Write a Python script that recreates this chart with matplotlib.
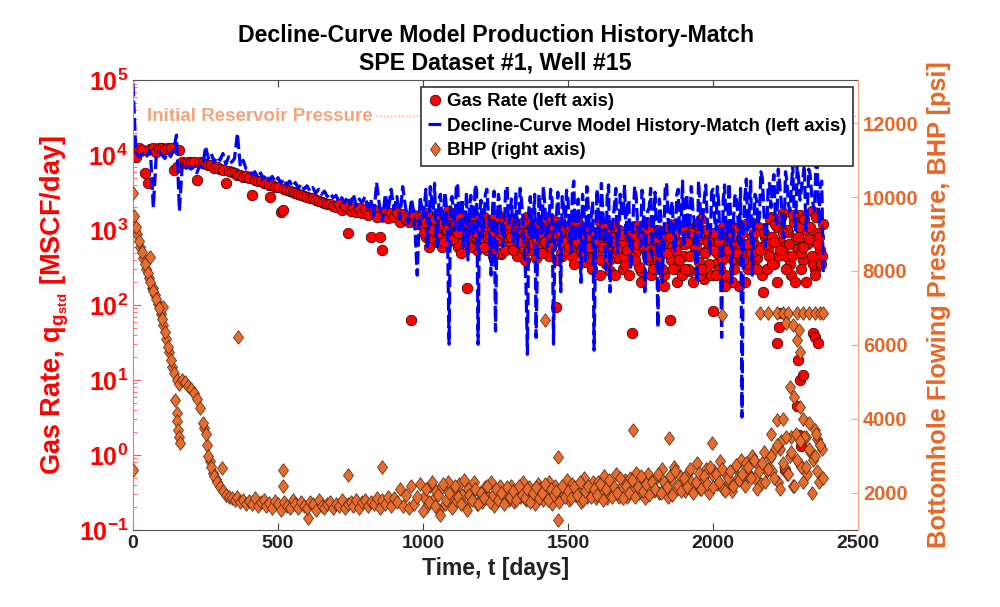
import numpy as np
import matplotlib
matplotlib.use("Agg")
import matplotlib.pyplot as plt
from matplotlib.ticker import NullFormatter

plt.rcParams['font.family'] = ['Liberation Sans', 'DejaVu Sans']
plt.rcParams['font.weight'] = 'bold'
plt.rcParams['mathtext.fontset'] = 'custom'
plt.rcParams['mathtext.rm'] = 'Liberation Sans:bold'
plt.rcParams['mathtext.it'] = 'Liberation Sans:bold'
plt.rcParams['mathtext.bf'] = 'Liberation Sans:bold'
plt.rcParams['mathtext.default'] = 'bf'

# sampled every 10 days, 0 .. 2380
days = np.arange(0, 2390, 10)
# in-between samples for the noisy late period
days_mid = np.arange(1005, 2385, 10)   # 1005 .. 2375
days_q = np.arange(1002, 2382, 10)     # 1002 .. 2372

# measured gas rate, MSCF/day
gas_rate = [
    12000, 9500, 12400, 11800, 5800, 4300, 12200, 12500, 11000, 12300,
    12500, 12000, 12400, 12500, 6300, 7000, 11800, 8200, 7900, 8100,
    8000, 8100, 4700, 8000, 7900, 7700, 7300, 7400, 6800, 6900,
    6600, 6300, 4300, 6100, 5900, 5700, 5500, 5500, 5100, 5200,
    4950, 2900, 4700, 4500, 4450, 4250, 4200, 4000, 3950, 3800,
    3700, 1750, 3500, 3400, 3350, 3250, 3100, 3000, 2950, 2850,
    2800, 2650, 2650, 2500, 2450, 2400, 2300, 2250, 2200, 2100,
    2050, 2200, 1850, 2100, 910, 1800, 2000, 1750, 1950, 1700,
    1900, 1600, 810, 1850, 1500, 810, 540, 1800, 1450, 1700,
    1500, 1750, 1300, 1650, 1400, 1300, 63, 1600, 1200, 1500,
    1400, 800, 1600, 1100, 700, 1300, 900, 1500, 650, 1200,
    1000, 1700, 600, 1100, 800, 170, 1400, 950, 700, 1300,
    850, 1500, 550, 1000, 1250, 700, 1600, 480, 900, 1100,
    650, 1400, 850, 500, 1200, 750, 1500, 600, 950, 420,
    1100, 800, 1500, 550, 1000, 700, 93, 1300, 450, 900,
    750, 1200, 500, 1400, 650, 950, 380, 1100, 600, 800,
    500, 1300, 700, 350, 950, 550, 1200, 420, 800, 300,
    650, 1100, 42, 500, 900, 280, 750, 1300, 400, 600,
    350, 1000, 500, 250, 850, 63, 600, 1200, 300, 700,
    450, 1100, 280, 650, 900, 380, 1400, 220, 550, 800,
    83, 350, 1000, 600, 250, 750, 1200, 400, 650, 180,
    900, 500, 300, 1300, 650, 420, 1000, 250, 800, 550,
    1500, 350, 1100, 700, 1700, 450, 950, 250, 1300, 600,
    1600, 400, 1000, 700, 1800, 300, 900, 550, 1200,
]
gas_rate_mid = [
    1100, 1700, 750, 1250, 950, 1500, 600, 1150, 1800, 850,
    1300, 700, 1550, 900, 1200, 650, 1000, 1600, 550, 1050,
    1300, 750, 1100, 600, 1450, 950, 500, 1250, 800, 1350,
    950, 1150, 450, 1000, 700, 1300, 550, 1100, 800, 1250,
    600, 1250, 850, 450, 1350, 750, 1000, 500, 1150, 650,
    1000, 450, 850, 1250, 550, 750, 1050, 420, 950, 600,
    850, 400, 1050, 600, 280, 800, 450, 1000, 650, 350,
    900, 450, 700, 1150, 320, 800, 550, 1000, 250, 750,
    550, 900, 300, 750, 1100, 400, 850, 200, 650, 1000,
    650, 300, 900, 500, 1200, 250, 750, 1000, 350, 600,
    900, 500, 300, 1100, 450, 850, 200, 700, 1050, 400,
    650, 1200, 350, 800, 450, 1100, 600, 900, 300, 1400,
    800, 1200, 450, 1500, 600, 1000, 350, 1600, 750, 1100,
    500, 1400, 650, 1100, 350, 1500, 800, 450,
]
gas_rate_q = [
    900, 1300, 600, 1000, 1400, 800, 1200, 700, 1000, 1600,
    750, 1200, 900, 500, 1300, 850, 600, 1150, 900, 700,
    1000, 600, 1300, 850, 450, 1100, 750, 900, 550, 1200,
    800, 550, 1000, 700, 1250, 400, 900, 650, 1100, 750,
    900, 500, 700, 1100, 600, 850, 400, 950, 700, 550,
    600, 900, 350, 700, 1000, 450, 800, 600, 300, 900,
    700, 250, 600, 900, 400, 700, 250, 550, 850, 450,
    550, 250, 800, 400, 650, 200, 600, 450, 750, 300,
    750, 400, 600, 180, 500, 800, 300, 550, 400, 250,
    300, 700, 450, 200, 600, 850, 300, 500, 700, 250,
    550, 250, 700, 400, 180, 550, 800, 300, 500, 650,
    400, 200, 650, 500, 900, 300, 550, 150, 650, 450,
    350, 700, 200, 550, 900, 300, 650, 450, 200, 800,
    300, 600, 200, 750, 450, 250, 650, 350,
]

# extra measured points off the grid (incl. the late collapse)
gas_extra_days = [472, 517, 2220, 2228, 2235, 2248, 2290, 2293, 2296, 2300, 2305, 2310, 2345, 2352, 2362]
gas_extra_rate = [2750, 1850, 31, 51, 78, 0.63, 4.5, 18.6, 1.86, 10, 1.3, 11.7, 42, 38, 31]

# decline-curve model rate, MSCF/day
model_rate = [
    90000, 11000, 9500, 10500, 9000, 10000, 11500, 2000, 9500, 11000,
    10000, 9000, 11000, 9500, 12000, 18500, 1800, 7500, 6500, 7000,
    6500, 7000, 5800, 7200, 6800, 13000, 9000, 10500, 8000, 9500,
    8500, 10500, 7500, 9500, 8000, 9000, 19500, 7000, 8500, 6500,
    6300, 5500, 6000, 5000, 5800, 4800, 5500, 4600, 5200, 4400,
    5000, 4200, 4800, 4000, 4500, 3800, 4300, 3600, 4100, 3500,
    3900, 3300, 3700, 3100, 3500, 3000, 3300, 2800, 3100, 2700,
    2900, 2400, 2700, 2300, 2800, 2200, 3000, 2100, 2600, 2300,
    2800, 2000, 2600, 1500, 4300, 2100, 1300, 3000, 1800, 3500,
    1900, 2800, 1400, 3800, 2000, 1200, 2600, 1600, 250, 2800,
    1500, 3500, 900, 2500, 4200, 600, 3000, 1200, 2200, 30,
    2800, 1000, 3800, 1500, 600, 3200, 2000, 800, 4000, 30,
    2500, 1200, 3500, 700, 2000, 45, 3000, 1400, 900, 3800,
    1500, 700, 3200, 1000, 2400, 500, 22, 2800, 1200, 37,
    3000, 900, 2200, 600, 3500, 30, 1500, 800, 2800, 1100,
    2500, 500, 4500, 1200, 800, 3000, 400, 2000, 1500, 25,
    3500, 700, 1800, 300, 4000, 1000, 2200, 500, 3000, 1500,
    800, 2500, 400, 3800, 1200, 600, 2800, 1000, 2000, 450,
    3200, 50, 1500, 700, 4200, 900, 2400, 500, 3500, 1300,
    600, 3000, 1100, 2000, 400, 4500, 800, 2600, 1400, 500,
    3500, 1000, 2200, 37, 4000, 700, 1800, 1200, 3000, 600,
    3.2, 2800, 1000, 4500, 800, 2500, 1500, 5000, 600, 3500,
    2000, 5500, 1200, 4000, 900, 6000, 2200, 3500, 1500, 7000,
    2500, 5000, 1000, 6500, 3000, 1800, 7000, 4000, 270,
]
model_rate_mid = [
    2200, 600, 3800, 1800, 900, 2600, 1400, 3200, 700, 2400,
    1700, 4200, 900, 2600, 1300, 400, 2900, 1100, 3400, 1600,
    800, 3000, 1800, 250, 3300, 1000, 2200, 600, 3700, 1200,
    2600, 1100, 600, 3600, 1400, 200, 1900, 800, 3000, 500,
    1800, 3800, 700, 1500, 2500, 900, 3200, 150, 2000, 3400,
    1000, 3200, 700, 2600, 200, 1800, 3800, 900, 2400, 700,
    1600, 4200, 900, 2800, 150, 1300, 3600, 700, 1900, 4000,
    2200, 300, 1600, 2800, 800, 3400, 150, 1800, 3600, 1200,
    1000, 2600, 200, 3500, 1400, 2000, 600, 3000, 900, 4500,
    2200, 800, 3800, 1300, 200, 2400, 1500, 4000, 700, 3200,
    1500, 3800, 500, 2500, 1000, 4200, 200, 2800, 1700, 3600,
    900, 4800, 1800, 250, 3000, 1200, 6000, 2000, 900, 4200,
    3800, 1400, 6500, 2500, 800, 4500, 1800, 7500, 1000, 5000,
    3500, 7500, 1500, 5500, 2200, 8000, 1200, 4500,
]

# bottomhole flowing pressure, psi
bhp = [
    10100, 9200, 8800, 8500, 8200, 7950, 7700, 7450, 7250, 7000,
    6700, 6350, 5950, 5600, 5250, 5050, 4950, 5050, 5000, 4900,
    4800, 4700, 4550, 4300, 3900, 3600, 3000, 2700, 2450, 2300,
    2150, 2050, 1950, 1900, 1850, 1800, 1900, 1750, 1800, 1700,
    1780, 1700, 1850, 1650, 1750, 1800, 1650, 1720, 1600, 1780,
    1700, 1550, 1750, 1650, 1600, 1800, 1700, 1600, 1750, 1650,
    1600, 1750, 1700, 1550, 1800, 1650, 1600, 1700, 1750, 1600,
    1700, 1650, 1800, 1600, 1700, 1750, 1650, 1800, 1600, 1750,
    1800, 1650, 1750, 1700, 1850, 1600, 1800, 1700, 1900, 1650,
    1850, 1750, 2100, 1650, 1950, 1600, 2200, 1700, 1900, 2250,
    1500, 2100, 1750, 2300, 1650, 1950, 1400, 2250, 1800, 2000,
    1600, 2200, 1900, 1700, 2350, 1550, 1950, 1800, 2100, 1700,
    2000, 1850, 2200, 1750, 1950, 2100, 1800, 2000, 1700, 2150,
    1900, 2050, 1800, 2200, 1950, 1850, 2100, 1750, 2000, 2150,
    1850, 2000, 2250, 1800, 2100, 1950, 2050, 1750, 2200, 1900,
    2050, 1850, 2150, 1950, 2300, 1800, 2050, 2200, 1900, 2100,
    1950, 2250, 1800, 2100, 2350, 1900, 2150, 2000, 2400, 1850,
    2200, 2000, 2350, 1900, 2150, 2450, 2050, 2250, 1950, 2300,
    2100, 2500, 2000, 2300, 2150, 2450, 1950, 2600, 2200, 2050,
    2400, 2150, 2650, 2000, 2300, 2550, 2100, 2450, 2250, 2700,
    2150, 2500, 2300, 2650, 2050, 2400, 2600, 2200, 2750, 2350,
    2500, 2200, 2700, 2400, 2900, 2100, 2600, 2800, 2300, 2650,
    3000, 2400, 3300, 2100, 2800, 3500, 2500, 3100, 2200, 2900,
    3400, 2300, 2700, 3200, 2000, 3000, 2600, 3300, 2400,
]
bhp_mid = [
    1900, 1650, 2200, 1800, 2050, 1550, 2150, 1700, 2300, 1850,
    2050, 1750, 2250, 1950, 1650, 2100, 1850, 2300, 1700, 2000,
    1750, 2150, 1900, 2300, 1650, 2000, 2200, 1850, 2100, 1800,
    2200, 1750, 2050, 1900, 2300, 1800, 2150, 2000, 1700, 2250,
    2100, 1800, 1950, 2300, 1700, 2200, 1850, 2100, 1950, 2350,
    1800, 2250, 1950, 2050, 1750, 2400, 1900, 2150, 2300, 1850,
    2300, 2000, 2450, 1850, 2150, 2000, 2500, 1900, 2200, 2350,
    1900, 2400, 2100, 2550, 2000, 2250, 1850, 2500, 2300, 2050,
    2400, 2000, 2650, 2250, 1900, 2350, 2700, 2100, 2450, 2300,
    2050, 2550, 2300, 2200, 2800, 2100, 2400, 2650, 2000, 2500,
    2600, 2250, 2850, 2100, 2500, 2300, 2050, 2700, 2400, 2900,
    2300, 2800, 2500, 3000, 2400, 2750, 2250, 3100, 2600, 2950,
    2600, 3200, 2300, 3400, 2700, 2500, 3000, 2200, 3600, 2800,
    2700, 3500, 2500, 3100, 2900, 3600, 2300, 3200,
]

# extra BHP readings (early steep part, side branch, scattered points)
bhp_extra_days = [
    0, 5, 15, 25, 35, 45, 55, 59, 65, 69, 75, 85, 95, 103, 105, 115, 125, 135,
    145, 150, 153, 156, 159, 162, 245, 255, 265, 275, 285, 307, 362,
    517, 517, 603, 741, 859, 1420, 1466, 1466, 1724, 1848, 1996, 2030,
    2162, 2190, 2220, 2240, 2260, 2290, 2310, 2330, 2350, 2370, 2380,
    2200, 2220, 2230, 2240, 2250, 2265, 2270, 2275, 2280, 2290, 2295,
    2300, 2300, 2310, 2320, 2330, 2350, 2360, 2370,
]
bhp_extra = [
    2620, 9500, 9000, 8650, 8350, 8050, 7800, 8380, 7550, 7540, 7350, 7100, 6850, 7030, 6550, 6150, 5800, 5400,
    4500, 4150, 3950, 3700, 3500, 3350, 3750, 3300, 2850, 2550, 2380, 2680, 6215,
    2620, 2200, 1320, 2490, 2700, 6675, 2970, 1270, 3700, 3485, 3350, 6810,
    6870, 6870, 6870, 6870, 6870, 6870, 6870, 6870, 6870, 6870, 6870,
    3600, 3970, 3200, 4000, 6600, 4860, 3500, 6540, 4590, 6135, 6400,
    4320, 5800, 4000, 3500, 3900, 3700, 3450, 3300,
]

p_init = 12190  # initial reservoir pressure, psi

red_lab = '#ff0000'
orange = '#e3692a'
orange_light = '#f2a57c'

fig = plt.figure(figsize=(10, 6.07), dpi=100)
ax = fig.add_axes([0.133, 0.127, 0.725, 0.741])
ax2 = ax.twinx()

diamond = [(0, 1), (0.74, 0), (0, -1), (-0.74, 0), (0, 1)]
red_kw = dict(ls='none', marker='o', ms=7.6, mfc='r', mec='#200000', mew=0.5)
bhp_kw = dict(ls='none', marker=diamond, ms=9.8, mfc='#e86c2e', mec='#4a220c', mew=0.5)

# model line: merge both samplings in time order
t_model = np.concatenate([days, days_mid])
q_model = np.concatenate([model_rate, model_rate_mid])
order = np.argsort(t_model)

h_gas, = ax.plot(days, gas_rate, label='Gas Rate (left axis)', **red_kw)
ax.plot(days_mid, gas_rate_mid, **red_kw)
ax.plot(days_q, gas_rate_q, **red_kw)
ax.plot(gas_extra_days, gas_extra_rate, **red_kw)
h_mod, = ax.plot(t_model[order], q_model[order], '--', color='b', lw=2.3, dashes=(4, 1.4),
                 label='Decline-Curve Model History-Match (left axis)')

ax2.plot(bhp_extra_days, bhp_extra, **bhp_kw)
ax2.plot(days_mid, bhp_mid, **bhp_kw)
h_bhp, = ax2.plot(days, bhp, label='BHP (right axis)', **bhp_kw)

ax2.axhline(p_init, xmin=0.335, color=orange_light, ls=':', lw=1)
ax2.text(48, p_init, 'Initial Reservoir Pressure', color=orange_light,
         fontsize=13.5, fontweight='bold', va='center', ha='left')

ax.set_yscale('log')
ax.set_ylim(1e-1, 1e5)
ax.set_xlim(0, 2500)
ax.set_xticks([0, 500, 1000, 1500, 2000, 2500])
ax.yaxis.set_minor_formatter(NullFormatter())
ax2.set_ylim(1000, 13160)
ax2.set_yticks([2000, 4000, 6000, 8000, 10000, 12000])

ax.tick_params(axis='x', which='both', direction='in', top=True, colors='#444444',
               labelcolor='#222222', labelsize=14, length=5)
ax.tick_params(axis='y', which='major', direction='in', colors='#ff5555',
               labelcolor=red_lab, labelsize=18, length=6)
ax.tick_params(axis='y', which='minor', direction='in', colors='#ff5555', length=3)
ax2.tick_params(axis='y', direction='in', colors=orange_light, labelcolor=orange,
                labelsize=14.5, length=5)

ax.spines['left'].set_color('#ff7070')
ax.spines['right'].set_visible(False)
ax.spines['top'].set_color('#555555')
ax.spines['bottom'].set_color('#555555')
ax2.spines['left'].set_visible(False)
ax2.spines['top'].set_visible(False)
ax2.spines['bottom'].set_visible(False)
ax2.spines['right'].set_color(orange_light)

ax.set_xlabel('Time, t [days]', fontsize=16.5, fontweight='bold', color='#222222')
ax.set_ylabel(r'Gas Rate, $q_{g_{std}}$ [MSCF/day]', fontsize=19.5,
              fontweight='bold', color=red_lab)
ax2.set_ylabel('Bottomhole Flowing Pressure, BHP [psi]', fontsize=18.3,
               fontweight='bold', color=orange)
ax.yaxis.set_label_coords(-0.085, 0.5)
ax2.yaxis.set_label_coords(1.095, 0.5)

ax.set_title('Decline-Curve Model Production History-Match\nSPE Dataset #1, Well #15',
             fontsize=16.7, fontweight='bold', pad=8)

leg = ax2.legend(handles=[h_gas, h_mod, h_bhp], loc='upper right',
                 bbox_to_anchor=(0.853, 0.857), bbox_transform=fig.transFigure,
                 fontsize=13.4, frameon=True, fancybox=False, framealpha=1,
                 edgecolor='#333333', borderaxespad=0, borderpad=0.35,
                 handlelength=0.8, handletextpad=0.25, labelspacing=0.4)
leg.get_frame().set_linewidth(1.2)
for t in leg.get_texts():
    t.set_fontweight('bold')

fig.savefig('out.png', dpi=100)
